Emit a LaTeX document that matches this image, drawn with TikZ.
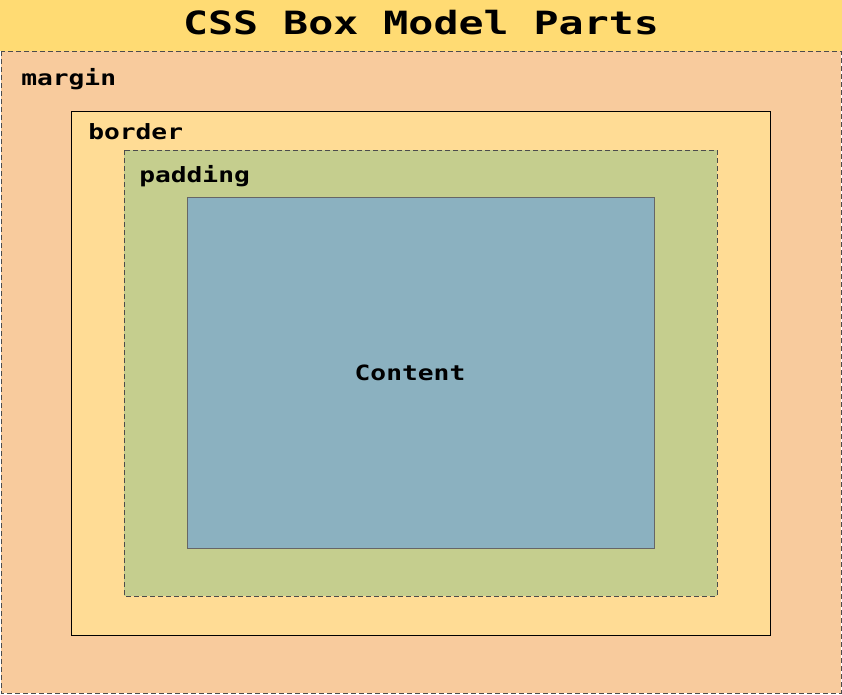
\documentclass[tikz,border=0pt]{standalone}
\usepackage{fontspec}
\setmonofont{DejaVu Sans Mono}
\definecolor{titlebg}{HTML}{FFDB73}
\definecolor{marginc}{HTML}{F8CB9D}
\definecolor{borderc}{HTML}{FFDC95}
\definecolor{paddingc}{HTML}{C5CE8E}
\definecolor{contentc}{HTML}{8BB1C0}
\tikzset{lbl/.style={font=\ttfamily\bfseries\fontsize{21}{24}\selectfont, anchor=west, inner sep=0pt, xscale=1.25},
 edge/.style={draw=black!70, line width=0.7pt, dash pattern=on 5pt off 3pt}}
\begin{document}
\begin{tikzpicture}[x=1pt,y=-1pt]
\useasboundingbox (0,0) rectangle (842,694);
\fill[titlebg] (0,0) rectangle (842,51);
\node[font=\ttfamily\bfseries\fontsize{32}{36}\selectfont, xscale=1.3] (title) at (421,23) {CSS Box Model Parts};
\filldraw[fill=marginc, edge] (1,51) rectangle (841,693);
\node[lbl] (m) at (21,79) {margin};
\filldraw[fill=borderc, draw=black, line width=0.6pt] (71,111) rectangle (770,635);
\node[lbl] (b) at (88,132) {border};
\filldraw[fill=paddingc, edge] (124,150) rectangle (717,596);
\node[lbl] (p) at (139,176) {padding};
\filldraw[fill=contentc, draw=black!60, line width=0.6pt] (187,197) rectangle (654,548);
\node[font=\ttfamily\bfseries\fontsize{21}{24}\selectfont, xscale=1.25] (c) at (410,373) {Content};
\end{tikzpicture}
\end{document}
